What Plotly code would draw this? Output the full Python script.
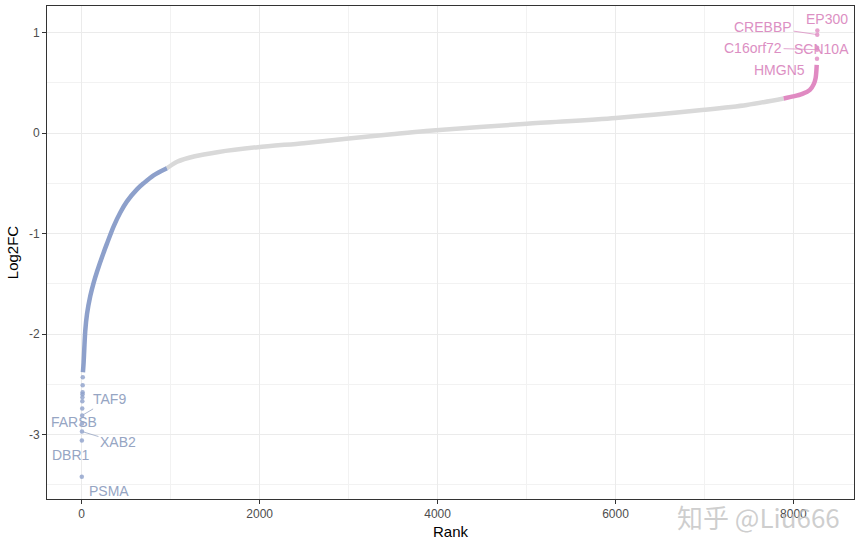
import plotly.graph_objects as go

# ---- data (rank, log2FC) ----
# sparse low-end points (blue)
low_rank = [1, 2, 3, 4, 5, 6, 7, 8, 9, 10, 11, 12]
low_fc = [-3.42, -3.06, -2.97, -2.89, -2.81, -2.74, -2.67, -2.63, -2.60, -2.58, -2.51, -2.43]

# dense blue band
down_rank = [14, 22, 29, 40, 60, 97, 134, 172, 246, 284, 358, 434, 509, 621, 695, 808, 958]
down_fc = [-2.38, -2.28, -2.15, -1.97, -1.80, -1.62, -1.49, -1.38, -1.19, -1.10, -0.93,
           -0.79, -0.68, -0.56, -0.50, -0.42, -0.35]

# grey middle band
mid_rank = [958, 1072, 1272, 1524, 1980, 2495, 2975, 3485, 3870, 5004, 6004, 7000, 7476, 7890]
mid_fc = [-0.35, -0.285, -0.23, -0.19, -0.14, -0.10, -0.056, -0.012, 0.02, 0.093, 0.15,
          0.232, 0.28, 0.345]

# dense pink band
up_rank = [7890, 8000, 8100, 8185, 8230, 8250, 8258, 8262]
up_fc = [0.345, 0.365, 0.39, 0.43, 0.49, 0.55, 0.62, 0.68]

# sparse high-end points (pink)
high_rank = [8265, 8266, 8267, 8268, 8269]
high_fc = [0.74, 0.83, 0.85, 0.98, 1.02]

# labelled genes
low_genes = ["PSMA", "DBR1", "XAB2", "FARSB", "TAF9"]
low_gene_rank = [1, 2, 3, 4, 5]
low_gene_fc = [-3.42, -3.06, -2.97, -2.89, -2.81]
high_genes = ["HMGN5", "C16orf72", "SCN10A", "CREBBP", "EP300"]
high_gene_rank = [8265, 8266, 8267, 8268, 8269]
high_gene_fc = [0.74, 0.83, 0.85, 0.98, 1.02]

x_ticks = [0, 2000, 4000, 6000, 8000]
y_ticks = [-3, -2, -1, 0, 1]

BLUE = "#8da0cb"
PINK = "#e08ac2"
GREY = "#d9d9d9"
BLUE_TXT = "#96a5c3"
PINK_TXT = "#dc8fc3"
FONT = "Liberation Sans"

fig = go.Figure()
fig.add_trace(go.Scatter(x=mid_rank, y=mid_fc, mode="lines",
                         line=dict(color=GREY, width=4.5, shape="spline", smoothing=0.8),
                         hoverinfo="skip"))
fig.add_trace(go.Scatter(x=down_rank, y=down_fc, mode="lines",
                         line=dict(color=BLUE, width=4.5, shape="spline", smoothing=0.8),
                         hoverinfo="skip"))
fig.add_trace(go.Scatter(x=up_rank, y=up_fc, mode="lines",
                         line=dict(color=PINK, width=4.5, shape="spline", smoothing=0.8),
                         hoverinfo="skip"))
fig.add_trace(go.Scatter(x=low_rank, y=low_fc, mode="markers",
                         marker=dict(color=BLUE, size=4.5, opacity=0.8), hoverinfo="skip"))
fig.add_trace(go.Scatter(x=high_rank, y=high_fc, mode="markers",
                         marker=dict(color=PINK, size=4.5, opacity=0.8), hoverinfo="skip"))

# label placement offsets (pixels from the point) and whether a segment is drawn
low_off = {"PSMA": (27, 14, False), "DBR1": (-11, 14, False), "XAB2": (36, 11, True),
           "FARSB": (-8, -1, False), "TAF9": (27, -16, True)}
high_off = {"HMGN5": (-37, 11, False), "C16orf72": (-64, -2, True), "SCN10A": (4, 1, False),
            "CREBBP": (-54, -8, True), "EP300": (10, -12, False)}

annotations = []
def add_labels(genes, ranks, fcs, offs, col):
    for g, xr, yv in zip(genes, ranks, fcs):
        dx, dy, seg = offs[g]
        f = dict(size=14, color=col, family=FONT)
        if seg:
            annotations.append(dict(x=xr, y=yv, ax=dx, ay=dy, axref="pixel", ayref="pixel",
                                    text=g, showarrow=True, arrowhead=0, arrowwidth=0.8,
                                    arrowcolor=col, standoff=1, font=f))
        else:
            annotations.append(dict(x=xr, y=yv, xshift=dx, yshift=-dy, text=g,
                                    showarrow=False, font=f))

add_labels(low_genes, low_gene_rank, low_gene_fc, low_off, BLUE_TXT)
add_labels(high_genes, high_gene_rank, high_gene_fc, high_off, PINK_TXT)

W, H = 862, 549
ml, mr, mt, mb = 47, 8, 6, 50
pw, ph = W - ml - mr, H - mt - mb

# watermark
annotations.append(dict(x=(758 - ml) / pw, y=(H - mb - 516) / ph, xref="paper", yref="paper",
                        xanchor="center", yanchor="middle", text="知乎 @Liu666",
                        showarrow=False,
                        font=dict(size=26, color="rgba(190,190,190,0.75)",
                                  family="Noto Sans CJK SC")))

axis_common = dict(showline=True, linecolor="#333333", linewidth=1, mirror=True,
                   showgrid=True, gridcolor="#ebebeb", gridwidth=1, zeroline=False,
                   ticks="outside", ticklen=4, tickcolor="#333333", tickwidth=1,
                   automargin=False,
                   tickfont=dict(size=12, color="#4d4d4d", family=FONT))

fig.update_layout(
    width=W, height=H, margin=dict(l=ml, r=mr, t=mt, b=mb, autoexpand=False),
    paper_bgcolor="white", plot_bgcolor="white", showlegend=False,
    annotations=annotations,
    xaxis=dict(range=[-390, 8681], tickvals=x_ticks, ticktext=[str(v) for v in x_ticks],
               minor=dict(dtick=1000, tick0=0, showgrid=True, gridcolor="#f2f2f2", gridwidth=0.6),
               title=dict(text="Rank", font=dict(size=15, color="black", family=FONT),
                          standoff=6),
               **axis_common),
    yaxis=dict(range=[-3.642, 1.265], tickvals=y_ticks, ticktext=[str(v) for v in y_ticks],
               minor=dict(dtick=0.5, tick0=0, showgrid=True, gridcolor="#f2f2f2", gridwidth=0.6),
               title=dict(text="Log2FC", font=dict(size=15, color="black", family=FONT),
                          standoff=6),
               **axis_common),
)

fig.write_html("out.html", config={"displayModeBar": False},
               post_script="document.body.style.margin='0';")
